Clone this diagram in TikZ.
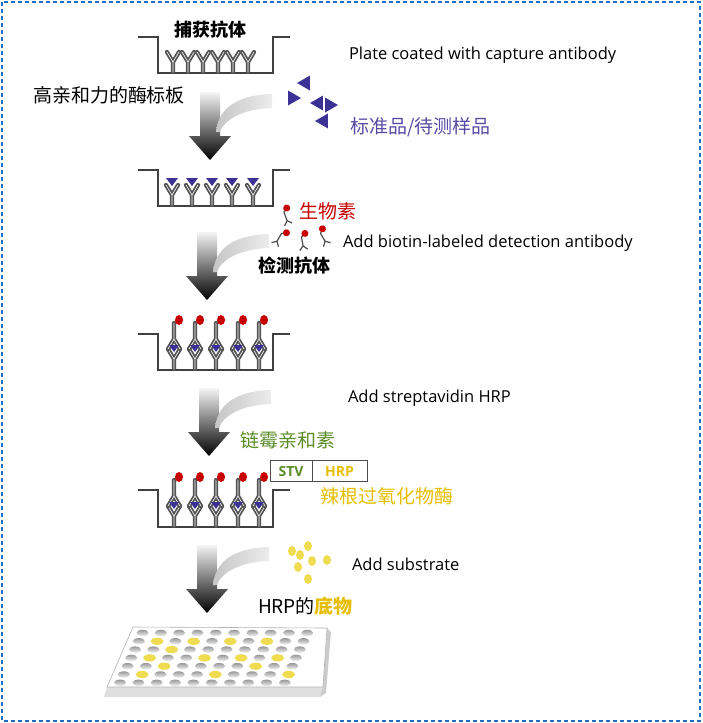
\documentclass[tikz,border=0pt]{standalone}
\usepackage{fontspec}
\setmainfont{Open Sans}
\newfontfamily\cjk{Noto Sans CJK SC}
\definecolor{bordc}{RGB}{30,110,200}
\definecolor{agc}{RGB}{60,50,150}
\definecolor{bioc}{RGB}{200,0,0}
\definecolor{ylwc}{RGB}{240,220,80}
\definecolor{purc}{RGB}{85,75,165}
\definecolor{grnc}{RGB}{90,140,40}
\definecolor{goldc}{RGB}{230,190,0}
\begin{document}
\begin{tikzpicture}[x=1pt,y=-1pt,
  every node/.style={inner sep=0pt,outer sep=0pt},
  en/.style={anchor=west,font=\fontsize{16.5}{19}\selectfont},
  zh/.style={anchor=west,font=\cjk\fontsize{19}{21}\selectfont},
  zhb/.style={font=\cjk\bfseries\fontsize{18}{20}\selectfont},
  well/.style={draw=black!75,line width=1.3pt},
  ab/.style={draw=gray!65!black,line width=1.8pt,double=white,double distance=0.6pt,line cap=round},
  ag/.style={fill=agc},
  bio/.style={fill=bioc},
  ylw/.style={fill=ylwc},
  capY/.pic={\draw[ab] (0,0)--(0,-10) (0,-10)--(-6,-20) (0,-10)--(6,-20);},
  capAg/.pic={\draw[ab] (0,0)--(0,-10) (0,-10)--(-6,-20) (0,-10)--(6,-20);
     \path[ag] (-6,-27)--(6,-27)--(0,-19)--cycle;},
  sand/.pic={\draw[ab] (0,0)--(0,-10) (0,-10)--(-6,-20) (0,-10)--(6,-20);
     \draw[ab] (-6,-20)--(0,-30)--(6,-20) (0,-30)--(0,-46);
     \path[ag] (-5,-24)--(5,-24)--(0,-17)--cycle;
     \draw[gray!70!black,line width=1pt] (0,-46)--(4,-48);
     \path[bio] (5,-49) ellipse (4 and 5);},
  bigarrow/.pic={
     \shade[top color=gray!8,bottom color=black] (-10,0)--(10,0)--(10,44)--(21,44)--(0,68)--(-21,44)--(-10,44)--cycle;
     \shade[left color=gray!45,right color=gray!15] (62,2) .. controls (25,3) and (8,18) .. (6,40) -- (10,40) .. controls (14,28) and (32,17) .. (62,16) -- cycle;}
]
\useasboundingbox (0,0) rectangle (702,723);
\draw[bordc,line width=1.2pt,dash pattern=on 4pt off 3pt] (2,2) rectangle (700,721);

% wells
\draw[well] (138,37)--(158,37)--(158,73)--(273,73)--(273,37)--(290,37);
\draw[well] (138,170)--(158,170)--(158,206)--(273,206)--(273,170)--(290,170);
\draw[well] (138,334)--(158,334)--(158,370)--(273,370)--(273,334)--(290,334);
\draw[well] (138,490)--(158,490)--(158,527)--(273,527)--(273,490)--(290,490);

\foreach \x in {173,188,203,218,233,248} \pic at (\x,72) {capY};
\foreach \x in {172,192,212,232,253} \pic at (\x,205) {capAg};
\foreach \x in {174,195,216,238,259} \pic at (\x,369) {sand};
\foreach \x in {174,195,216,238,259} \pic at (\x,526) {sand};

% arrows
\pic at (210,92) {bigarrow};
\pic at (207,232) {bigarrow};
\pic at (209,388) {bigarrow};
\pic at (207,545) {bigarrow};

% texts
\node[zhb] (t1) at (210,30) {捕获抗体};
\node[en] (t2) at (349,55) {Plate coated with capture antibody};
\node[zh] (t3) at (33,95) {高亲和力的酶标板};
\foreach \a/\b/\r in {293/98/0,318/103/180,305/83/180,323/121/180,330/105/0}
  \path[ag] (\a,\b) ++(\r:8) -- ++(\r+150:15) -- ++(\r+270:15) -- cycle;
\node[zh,text=purc] (t4) at (350,127) {标准品/待测样品};
\node[zh,text=bioc] (t5) at (299,211) {生物素};
% free detection antibodies
\foreach \a/\b/\r in {285/215/20,280/236/-30,302/240/10,322/236/30}{
  \begin{scope}[shift={(\a,\b)},rotate=\r]
  \draw[gray!60!black,line width=1.2pt] (0,6)--(0,-3) (-4,10)--(0,6)--(4,10) (0,-3)--(3,-5);
  \path[bio] (4,-6) circle (3.5);
  \end{scope}}
\node[en] (t6) at (343,243) {Add biotin-labeled detection antibody};
\node[zhb,anchor=west] (t7) at (258,266) {检测抗体};
\node[en] (t8) at (348,398) {Add streptavidin HRP};
\node[zh,text=grnc] (t9) at (240,440) {链霉亲和素};
\node[draw=black!70,line width=0.8pt,minimum width=42pt,minimum height=21pt,font=\bfseries\fontsize{14}{16}\selectfont,text=grnc] (stv) at (291,471) {STV};
\node[draw=black!70,line width=0.8pt,minimum width=55pt,minimum height=21pt,font=\bfseries\fontsize{14}{16}\selectfont,text=goldc,anchor=west] (hrp) at (stv.east) {HRP};
\node[zh,text=goldc] (t10) at (320,496) {辣根过氧化物酶};
\foreach \a/\b in {292/551,300/555,308/546,312/561,327/560,298/567,308/579}
  \path[ylw] (\a,\b) ellipse (4 and 5);
\node[en] (t11) at (352,564) {Add substrate};
\node[zh] (t12) at (258,606) {HRP的{\bfseries\color{goldc}底物}};

% plate
\fill[gray!25] (107,687)--(323,687)--(320,697)--(104,697)--cycle;
\fill[gray!40] (323,687)--(327,628)--(331,632)--(326,693)--(320,697)--cycle;
\draw[gray!60,line width=0.6pt,fill=white] (133,627)--(327,628)--(323,687)--(107,687)--cycle;
\foreach \r in {0,...,6}{
  \foreach \j in {0,...,9}{
    \pgfmathsetmacro\yy{633+8.3*\r}
    \pgfmathsetmacro\xx{143+18.3*\j-0.45*(\yy-632)}
    \shade[top color=gray!80,bottom color=gray!10] (\xx,\yy) ellipse (6 and 3.2);
  }}
\foreach \r/\j in {1/1,1/3,1/5,1/7,2/2,3/1,3/4,3/6,3/8,4/2,4/7,5/1,5/5,5/9}{
    \pgfmathsetmacro\yy{633+8.3*\r}
    \pgfmathsetmacro\xx{143+18.3*\j-0.45*(\yy-632)}
    \path[ylw] (\xx,\yy) ellipse (6.5 and 3.6);
  }
\end{tikzpicture}
\end{document}
